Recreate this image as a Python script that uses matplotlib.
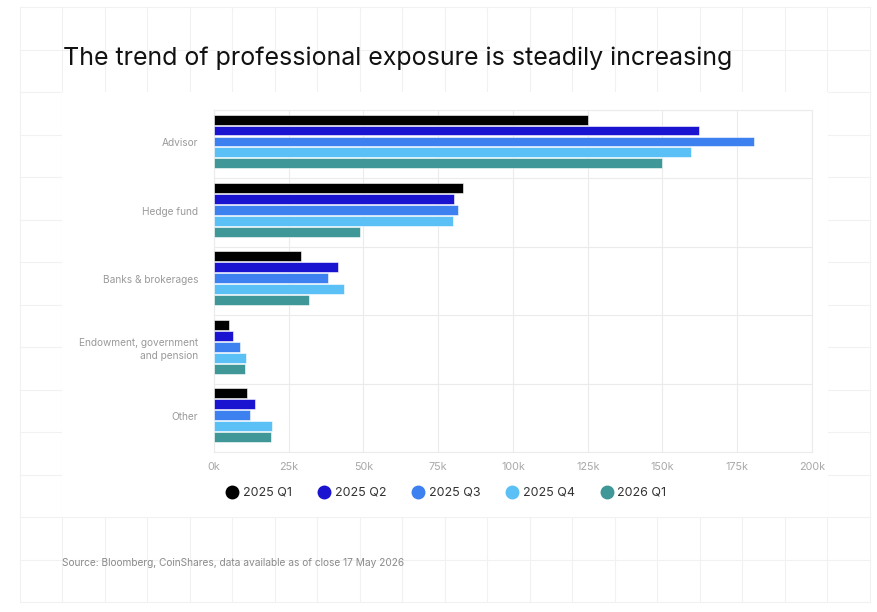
import matplotlib
matplotlib.use("Agg")
import matplotlib.pyplot as plt
from matplotlib.lines import Line2D
from matplotlib.patches import Rectangle
import numpy as np

plt.rcParams['font.family'] = ['Inter', 'DejaVu Sans']

categories = ["Advisor", "Hedge fund", "Banks & brokerages",
              "Endowment, government\nand pension", "Other"]
series_names = ["2025 Q1", "2025 Q2", "2025 Q3", "2025 Q4", "2026 Q1"]
q1_2025 = [125.1, 83.2, 29.1, 5.0, 11.0]
q2_2025 = [162.2, 80.4, 41.6, 6.4, 13.8]
q3_2025 = [180.6, 81.7, 38.0, 8.8, 12.0]
q4_2025 = [159.6, 79.9, 43.4, 10.6, 19.4]
q1_2026 = [150.0, 48.7, 31.9, 10.3, 19.1]
series_values = [q1_2025, q2_2025, q3_2025, q4_2025, q1_2026]
colors = ["#000000", "#1a14d0", "#3d80f0", "#5bc0f5", "#3f9797"]
x_ticks = [0, 25, 50, 75, 100, 125, 150, 175, 200]
x_tick_labels = ["0k", "25k", "50k", "75k", "100k", "125k", "150k", "175k", "200k"]

W, H = 878, 612
fig = plt.figure(figsize=(W / 100, H / 100), dpi=100)
fig.patch.set_facecolor("white")

# background graph-paper grid
gc = "#f1f1f1"
step = 42.5
for i in range(21):
    x = (20 + i * step) / W
    fig.add_artist(Line2D([x, x], [1 - 7 / H, 1 - 602 / H], color=gc, lw=0.8, zorder=0))
for j in range(15):
    y = 1 - (7 + j * step) / H
    fig.add_artist(Line2D([20 / W, 870 / W], [y, y], color=gc, lw=0.8, zorder=0))
# white card
fig.add_artist(Rectangle((62 / W, 1 - 517 / H), (828 - 62) / W, (517 - 92) / H,
                         facecolor="white", edgecolor="none", zorder=0.5))

ax = fig.add_axes([214 / W, 1 - 452 / H, (812 - 214) / W, (452 - 110) / H])
ax.set_zorder(2)
n = len(categories)
bstep = 0.16
bh = 0.145
for k, (vals, c, name) in enumerate(zip(series_values, colors, series_names)):
    y = np.arange(n) + (k - 2) * bstep - 0.04
    ax.barh(y, vals, height=bh, color=c, label=name, zorder=3,
            edgecolor="white", linewidth=0.4)

ax.set_ylim(n - 0.5, -0.5)
ax.set_xlim(0, 200)
ax.set_yticks(np.arange(n) - 0.03)
ax.set_yticklabels(categories, fontsize=7.3, color="#9a9a9a", linespacing=1.35)
ax.set_xticks(x_ticks)
ax.set_xticklabels(x_tick_labels, fontsize=7.8, color="#a8a8a8")
ax.tick_params(axis="both", length=0)
ax.tick_params(axis="y", pad=11.5)
ax.tick_params(axis="x", pad=7)
ax.set_yticks(np.arange(n + 1) - 0.5, minor=True)
ax.tick_params(axis="y", which="minor", length=0)
ax.grid(axis="x", color="#ebebeb", lw=0.8, zorder=0)
ax.grid(axis="y", which="minor", color="#ebebeb", lw=0.8, zorder=0)
for s in ax.spines.values():
    s.set_color("#ebebeb")
    s.set_linewidth(0.8)

handles = [Line2D([], [], marker="o", ls="none", markersize=9, markerfacecolor=c,
                  markeredgecolor=c) for c in colors]
fig.legend(handles, series_names, loc="center left", bbox_to_anchor=(215 / W, 1 - 493 / H),
           ncol=5, frameon=False, fontsize=9, handletextpad=0.35, columnspacing=2.05,
           labelcolor="#333333", handlelength=1.0)

fig.text(63 / W, 1 - 58 / H, "The trend of professional exposure is steadily increasing",
         fontsize=18, color="#111111", va="center", ha="left")
fig.text(62 / W, 1 - 563 / H, "Source: Bloomberg, CoinShares, data available as of close 17 May 2026",
         fontsize=7.3, color="#8a8a8a", va="center", ha="left")

fig.savefig("out.png", dpi=100, facecolor="white")
